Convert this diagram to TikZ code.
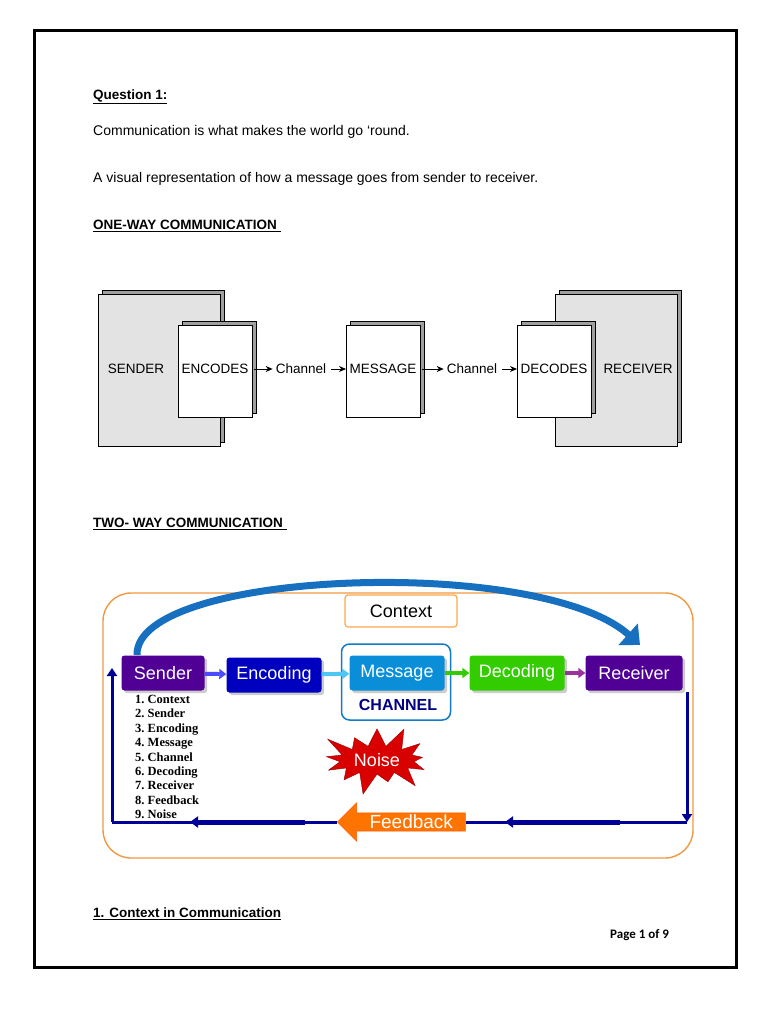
\documentclass[tikz,border=0pt]{standalone}
\usepackage{fontspec}
\setmainfont{Liberation Sans}
\newfontfamily\tnr{Liberation Serif}
\newfontfamily\carl{Carlito}
\usetikzlibrary{shapes.symbols,shapes.arrows,arrows.meta,shadows}
\begin{document}
\begin{tikzpicture}[x=1pt,y=-1pt,
 txt/.style={anchor=west,inner sep=0,font=\fontsize{14}{16}\selectfont},
 head/.style={anchor=west,inner sep=0,font=\fontsize{13.5}{15}\selectfont\bfseries},
 bk/.style={draw=black,line width=1pt,fill=#1},
 shd/.style={fill=gray!75,draw=black,line width=0.6pt},
 lab/.style={font=\fontsize{13.5}{15}\selectfont},
 cl/.style={font=\fontsize{13.5}{15}\selectfont,inner sep=3pt},
 ar/.style={-{Stealth[length=7pt,width=6pt]},line width=0.9pt,shorten <=2pt},
 pb/.style={rounded corners=3pt,text=white,font=\fontsize{18}{20}\selectfont,minimum height=35pt,inner sep=4pt,drop shadow={opacity=0.4}},
 ln/.style={line width=3pt,draw=blue!60!black},
]
\useasboundingbox (0,0) rectangle (768,1024);
\fill[white] (0,0) rectangle (768,1024);
\draw[line width=3pt] (34,31) rectangle (736,967);
% texts
\node[head] (q1) at (93,97) {\underline{Question 1:}};
\node[txt] (t1) at (93,132) {Communication is what makes the world go ‘round.};
\node[txt] (t2) at (93,179) {A visual representation of how a message goes from sender to receiver.};
\node[head] (h1) at (93,226) {\underline{ONE-WAY COMMUNICATION\ }};
\node[head] (h2) at (93,524) {\underline{TWO- WAY COMMUNICATION\ }};
\node[head] (h3) at (93,914) {\underline{1. Context in Communication}};
\node[anchor=west,inner sep=0,font=\carl\fontsize{13}{15}\selectfont\bfseries] (pg) at (610,935) {Page 1 of 9};
% one-way
\draw[shd] (102,290) rectangle (224,442);
\draw[bk=gray!22] (98,294) rectangle (220,446);
\draw[shd] (182,321) rectangle (256,413);
\draw[bk=white] (178,325) rectangle (252,417);
\draw[shd] (350,321) rectangle (424,413);
\draw[bk=white] (346,325) rectangle (420,417);
\draw[shd] (559,290) rectangle (681,442);
\draw[bk=gray!22] (555,294) rectangle (677,446);
\draw[shd] (521,321) rectangle (595,413);
\draw[bk=white] (517,325) rectangle (591,417);
\node[lab] (snd) at (136,369) {SENDER};
\node[lab,inner sep=0] (enc) at (215,369) {ENCODES};
\node[lab,inner sep=0] (msg) at (383,369) {MESSAGE};
\node[lab,inner sep=0] (dec) at (554,369) {DECODES};
\node[lab] (rcv) at (638,369) {RECEIVER};
\node[cl] (c1) at (301,369) {Channel};
\node[cl] (c2) at (472,369) {Channel};
\coordinate (e1) at (252,369); \coordinate (m0) at (346,369);
\coordinate (m1) at (420,369); \coordinate (d0) at (517,369);
\draw[ar] (e1) -- (c1); \draw[ar] (c1) -- (m0);
\draw[ar] (m1) -- (c2); \draw[ar] (c2) -- (d0);
% two-way
\draw[orange!70!brown!80,line width=1.4pt,rounded corners=28pt] (103,593) rectangle (693,858);
\node[draw=orange!70,line width=1.2pt,rounded corners=3pt,minimum width=112pt,minimum height=32pt,font=\fontsize{18}{20}\selectfont] (ctx) at (401,611) {Context};
\node[draw=cyan!60!blue,line width=1.5pt,rounded corners=8pt,minimum width=109pt,minimum height=76pt] (chb) at (396,682) {};
\node[pb,fill=violet!70!blue!90!black,minimum width=83pt] (s) at (163,673) {Sender};
\node[pb,fill=blue!75!black,minimum width=95pt] (e) at (274,675) {Encoding};
\node[pb,fill=cyan!75!blue,minimum width=95pt] (m) at (397,673) {Message};
\node[pb,fill=green!60!olive,minimum width=95pt] (d) at (517,673) {Decoding};
\node[pb,fill=violet!70!blue!90!black,minimum width=97pt] (r) at (634,673) {Receiver};
\node[font=\fontsize{16}{18}\selectfont\bfseries,text=blue!50!black,inner sep=0] (ch) at (398,705) {CHANNEL};
\foreach \a/\b/\c in {s/e/blue!70,e/m/cyan!70,m/d/green!60!olive,d/r/violet!80} \draw[-{Triangle[length=7pt,width=10pt]},line width=4pt,draw=\c] (\a) -- (\b);
\coordinate (sa) at (137,655); \coordinate (rz) at (640,645);
\draw[line width=7pt,draw=cyan!50!blue,-{Triangle[length=16pt,width=28pt]}] (sa) .. controls (135,570) and (540,555) .. (rz);
\node[starburst,starburst points=13,starburst point height=24pt,fill=red!85!black,draw=red!60!black,minimum width=118pt,minimum height=76pt,text=white,font=\fontsize{18}{20}\selectfont] (n) at (377,760) {Noise};
\node[single arrow,shape border rotate=180,fill=orange!90!red,draw=orange!70!red,minimum height=128pt,minimum width=38pt,single arrow head extend=10pt,single arrow tip angle=90,text=white,font=\fontsize{19}{20}\selectfont,inner sep=2pt] (fb) at (406,822) {\ \ Feedback};
\coordinate (rb) at (687,692); \coordinate (rc) at (687,822); \coordinate (lc) at (112,822); \coordinate (lt) at (112,668);
\draw[ln,-{Triangle[length=8pt,width=10pt]}] (rb) -- (rc);
\draw[ln] (rc) -- (fb.tail);
\draw[ln] (fb.tip) -- (lc);
\draw[ln,-{Triangle[length=8pt,width=10pt]}] (lc) -- (lt);
\draw[line width=5pt,draw=blue!60!black,-{Triangle[length=8pt,width=11pt]}] (620,822) -- (505,822);
\draw[line width=5pt,draw=blue!60!black,-{Triangle[length=8pt,width=11pt]}] (305,822) -- (190,822);
\node[anchor=north west,align=left,inner sep=0,font=\tnr\bfseries\fontsize{12.5}{14.4}\selectfont] (lst) at (135,695) {1.\ Context\\2.\ Sender\\3.\ Encoding\\4.\ Message\\5.\ Channel\\6.\ Decoding\\7.\ Receiver\\8.\ Feedback\\9.\ Noise};
\end{tikzpicture}
\end{document}
